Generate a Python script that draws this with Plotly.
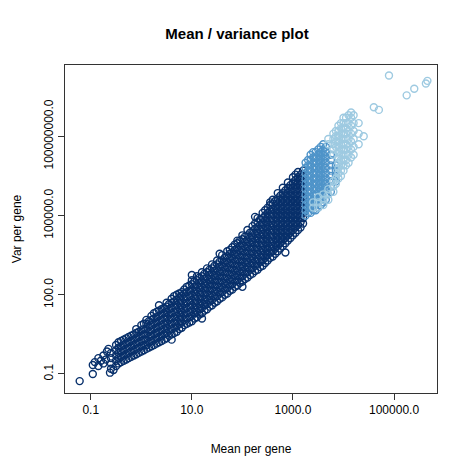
import plotly.graph_objects as go

# log10(mean), log10(var)
low_logmean = [-1.22,-0.96,-0.96,-0.92,-0.85,-0.85,-0.8,-0.75,-0.75,-0.7,-0.68,-0.62,-0.65,-0.55,
               0.35,1.0,1.55,2.25,2.55,1.2,2.0,2.85,0.6]
low_logvar = [-1.27,-1.0,-0.66,-0.55,-0.7,-0.4,-0.5,-0.6,-0.3,-0.45,-0.15,-0.95,-0.05,-0.85,
              1.6,2.75,3.55,4.95,5.5,1.1,2.3,3.6,0.3]

dark_cols = [-0.6,-0.5,-0.4,-0.3,-0.2,-0.1,0.0,0.1,0.2,0.3,0.4,0.5,0.6,0.7,0.8,0.9,1.0,1.1,1.2,1.3,
             1.4,1.5,1.6,1.7,1.8,1.9,2.0,2.1,2.2,2.3,2.4,2.5,2.6,2.7,2.8,2.9,3.0,3.1,3.2]
dark_vars = [
    [-0.8,-0.6,-0.4,-0.2],
    [-0.7,-0.5,-0.3,-0.1,0.1],
    [-0.55,-0.35,-0.15,0.05,0.25],
    [-0.45,-0.25,-0.05,0.15,0.35],
    [-0.35,-0.15,0.05,0.25,0.45],
    [-0.25,-0.05,0.15,0.35,0.55,0.7],
    [-0.15,0.05,0.25,0.45,0.65,0.85],
    [-0.05,0.1,0.3,0.5,0.7,0.9,1.05],
    [0.05,0.25,0.45,0.65,0.85,1.05,1.2],
    [0.15,0.35,0.55,0.75,0.95,1.15,1.35],
    [0.25,0.45,0.65,0.85,1.05,1.25,1.45],
    [0.35,0.55,0.75,0.95,1.15,1.35,1.55,1.7],
    [0.5,0.7,0.9,1.1,1.3,1.5,1.7,1.85],
    [0.6,0.8,1.0,1.2,1.4,1.6,1.8,2.0],
    [0.75,0.95,1.15,1.35,1.55,1.75,1.95,2.1],
    [0.9,1.1,1.3,1.5,1.7,1.9,2.1,2.3],
    [1.0,1.2,1.4,1.6,1.8,2.0,2.2,2.4,2.55],
    [1.15,1.35,1.55,1.75,1.95,2.15,2.35,2.55,2.7],
    [1.3,1.5,1.7,1.9,2.1,2.3,2.5,2.7,2.85],
    [1.45,1.65,1.85,2.05,2.25,2.45,2.65,2.85,3.0],
    [1.6,1.8,2.0,2.2,2.4,2.6,2.8,3.0,3.15],
    [1.75,1.95,2.15,2.35,2.55,2.75,2.95,3.15,3.3],
    [1.9,2.1,2.3,2.5,2.7,2.9,3.1,3.3,3.5],
    [2.05,2.25,2.45,2.65,2.85,3.05,3.25,3.45,3.65],
    [2.2,2.4,2.6,2.8,3.0,3.2,3.4,3.6,3.8],
    [2.35,2.55,2.75,2.95,3.15,3.35,3.55,3.75,3.95,4.05],
    [2.5,2.7,2.9,3.1,3.3,3.5,3.7,3.9,4.1,4.25],
    [2.65,2.85,3.05,3.25,3.45,3.65,3.85,4.05,4.25,4.45],
    [2.8,3.0,3.2,3.4,3.6,3.8,4.0,4.2,4.4,4.6],
    [2.95,3.15,3.35,3.55,3.75,3.95,4.15,4.35,4.55,4.75,4.9],
    [3.1,3.3,3.5,3.7,3.9,4.1,4.3,4.5,4.7,4.9,5.1],
    [3.3,3.5,3.7,3.9,4.1,4.3,4.5,4.7,4.9,5.1,5.3],
    [3.45,3.65,3.85,4.05,4.25,4.45,4.65,4.85,5.05,5.25,5.45,5.6],
    [3.65,3.85,4.05,4.25,4.45,4.65,4.85,5.05,5.25,5.45,5.65,5.85],
    [3.85,4.05,4.25,4.45,4.65,4.85,5.05,5.25,5.45,5.65,5.85,6.05],
    [4.05,4.25,4.45,4.65,4.85,5.05,5.25,5.45,5.65,5.85,6.05,6.25],
    [4.25,4.45,4.65,4.85,5.05,5.25,5.45,5.65,5.85,6.05,6.25,6.45],
    [4.45,4.65,4.85,5.05,5.25,5.45,5.65,5.85,6.05,6.25,6.45,6.65],
    [4.7,4.9,5.1,5.3,5.5,5.7,5.9,6.1,6.3,6.5,6.7],
]

dark_cols2 = [-0.45,-0.35,-0.25,-0.15,-0.05,0.05,0.15,0.25,0.35,0.45,0.55,0.65,0.75,0.85,0.95,1.05,
              1.15,1.25,1.35,1.45,1.55,1.65,1.75,1.85,1.95,2.05,2.15,2.25,2.35,2.45,2.55,2.65,
              2.75,2.85,2.95,3.05,3.15]
dark_vars2 = [
    [-0.6,-0.4,-0.2,0.0,0.2],
    [-0.5,-0.3,-0.1,0.1,0.3],
    [-0.4,-0.2,0.0,0.2,0.4],
    [-0.3,-0.1,0.1,0.3,0.5],
    [-0.2,0.0,0.2,0.4,0.6],
    [-0.1,0.1,0.3,0.5,0.7,0.9],
    [0.0,0.2,0.4,0.6,0.8,1.0],
    [0.1,0.3,0.5,0.7,0.9,1.1,1.3],
    [0.2,0.4,0.6,0.8,1.0,1.2,1.4],
    [0.3,0.5,0.7,0.9,1.1,1.3,1.5],
    [0.45,0.65,0.85,1.05,1.25,1.45,1.65],
    [0.55,0.75,0.95,1.15,1.35,1.55,1.75,1.95],
    [0.7,0.9,1.1,1.3,1.5,1.7,1.9,2.05],
    [0.85,1.05,1.25,1.45,1.65,1.85,2.05,2.2],
    [0.95,1.15,1.35,1.55,1.75,1.95,2.15,2.35],
    [1.1,1.3,1.5,1.7,1.9,2.1,2.3,2.5],
    [1.25,1.45,1.65,1.85,2.05,2.25,2.45,2.65],
    [1.4,1.6,1.8,2.0,2.2,2.4,2.6,2.8],
    [1.55,1.75,1.95,2.15,2.35,2.55,2.75,2.95],
    [1.7,1.9,2.1,2.3,2.5,2.7,2.9,3.1],
    [1.85,2.05,2.25,2.45,2.65,2.85,3.05,3.25],
    [2.0,2.2,2.4,2.6,2.8,3.0,3.2,3.4],
    [2.15,2.35,2.55,2.75,2.95,3.15,3.35,3.55,3.7],
    [2.3,2.5,2.7,2.9,3.1,3.3,3.5,3.7,3.9],
    [2.45,2.65,2.85,3.05,3.25,3.45,3.65,3.85,4.05],
    [2.6,2.8,3.0,3.2,3.4,3.6,3.8,4.0,4.2],
    [2.75,2.95,3.15,3.35,3.55,3.75,3.95,4.15,4.35],
    [2.9,3.1,3.3,3.5,3.7,3.9,4.1,4.3,4.5,4.7],
    [3.05,3.25,3.45,3.65,3.85,4.05,4.25,4.45,4.65,4.85],
    [3.2,3.4,3.6,3.8,4.0,4.2,4.4,4.6,4.8,5.0,5.2],
    [3.4,3.6,3.8,4.0,4.2,4.4,4.6,4.8,5.0,5.2,5.4],
    [3.55,3.75,3.95,4.15,4.35,4.55,4.75,4.95,5.15,5.35,5.55],
    [3.75,3.95,4.15,4.35,4.55,4.75,4.95,5.15,5.35,5.55,5.75],
    [3.95,4.15,4.35,4.55,4.75,4.95,5.15,5.35,5.55,5.75,5.95],
    [4.15,4.35,4.55,4.75,4.95,5.15,5.35,5.55,5.75,5.95,6.15],
    [4.35,4.55,4.75,4.95,5.15,5.35,5.55,5.75,5.95,6.15,6.35,6.55],
    [4.55,4.75,4.95,5.15,5.35,5.55,5.75,5.95,6.15,6.35,6.55],
]

mid_cols = [3.25,3.3,3.35,3.4,3.45,3.5,3.55,3.6,3.65,3.75,3.85]
mid_vars = [
    [5.0,5.2,5.4,5.6,5.8,6.0,6.2,6.4,6.6,6.8,7.0],
    [5.1,5.3,5.5,5.7,5.9,6.1,6.3,6.5,6.7,6.9,7.1],
    [5.1,5.3,5.5,5.7,5.9,6.1,6.3,6.5,6.7,6.9,7.1,7.3],
    [5.2,5.4,5.6,5.8,6.0,6.2,6.4,6.6,6.8,7.0,7.2,7.4],
    [5.2,5.4,5.6,5.8,6.0,6.2,6.4,6.6,6.8,7.0,7.2,7.4],
    [5.3,5.5,5.7,5.9,6.1,6.3,6.5,6.7,6.9,7.1,7.3,7.5],
    [5.4,5.6,5.8,6.0,6.2,6.4,6.6,6.8,7.0,7.2,7.4,7.6],
    [5.5,5.7,5.9,6.1,6.3,6.5,6.7,6.9,7.1,7.3,7.5,7.7],
    [5.6,5.8,6.0,6.2,6.4,6.6,6.8,7.0,7.2,7.4,7.6],
    [5.9,6.1,6.3,6.5,6.7,6.9,7.1,7.3],
    [6.3,6.5,6.7,6.9],
]

light_cols = [3.4,3.5,3.6,3.7,3.8,3.85,3.9,3.95,4.0,4.05,4.1,4.15,4.2,4.3,4.4]
light_vars = [
    [5.3,5.5],
    [5.3,5.5,5.7],
    [5.4,5.6,5.8],
    [5.6,5.8,6.0,7.7,7.9],
    [5.9,6.1,6.3,7.3,7.5,7.7,7.9,8.1],
    [6.2,6.4,7.6,7.8,8.0,8.2],
    [6.4,6.6,6.8,7.0,7.2,7.4,7.6,7.8,8.0,8.2,8.4],
    [6.5,6.7,6.9,7.1,7.3,7.5,7.7,7.9,8.1,8.3,8.5],
    [6.7,6.9,7.1,7.3,7.5,7.7,7.9,8.1,8.3,8.5,8.7],
    [6.9,7.1,7.3,7.5,7.7,7.9,8.1,8.3,8.5,8.7],
    [7.0,7.3,7.6,7.9,8.2,8.5,8.8],
    [7.2,7.5,7.8,8.1,8.4,8.7,8.9],
    [7.3,7.6,7.9,8.2,8.5,8.8],
    [7.7,8.1,8.5],
    [8.0],
]
outlier_logmean = [4.6,4.7,4.9,5.25,5.4,5.63,5.66]
outlier_logvar = [9.1,9.0,10.3,9.55,9.8,10.0,10.1]

x_tickvals = [0.1,10,1000,100000]
x_ticktext = ["0.1","10.0","1000.0","100000.0"]
y_tickvals = [0.1,100,100000,100000000]
y_ticktext = ["0.1","100.0","100000.0","100000000.0"]

def expand(cols, vars_):
    xs, ys = [], []
    for c, vs in zip(cols, vars_):
        for v in vs:
            xs.append(10**c); ys.append(10**v)
    return xs, ys

dx, dy = expand(dark_cols, dark_vars)
dx2, dy2 = expand(dark_cols2, dark_vars2)
dx = [10**v for v in low_logmean] + dx + dx2
dy = [10**v for v in low_logvar] + dy + dy2
mx, my = expand(mid_cols, mid_vars)
lx, ly = expand(light_cols, light_vars)
lx += [10**v for v in outlier_logmean]
ly += [10**v for v in outlier_logvar]

fig = go.Figure()
for xs, ys, col in [(dx, dy, "#08306B"), (mx, my, "#4F94C9"), (lx, ly, "#9ECAE1")]:
    fig.add_trace(go.Scatter(x=xs, y=ys, mode="markers",
                             marker=dict(symbol="circle-open", size=7, color=col, line=dict(width=1.4, color=col)),
                             showlegend=False, hoverinfo="skip"))

font = dict(family="Liberation Sans", size=12, color="#000")
axis_common = dict(type="log", showline=True, mirror=True, linecolor="#333", linewidth=1,
                   ticks="outside", ticklen=6, tickcolor="#333", showgrid=False, zeroline=False,
                   automargin=False, tickfont=font)
fig.update_layout(
    width=474, height=474, margin=dict(l=65, r=37, t=65, b=81),
    paper_bgcolor="white", plot_bgcolor="white",
    title=dict(text="<b>Mean / variance plot</b>", x=0.5, xanchor="center", y=0.928, yanchor="middle",
               font=dict(family="Liberation Sans", size=15, color="#000")),
    xaxis=dict(axis_common, range=[-1.51, 5.85], tickvals=x_tickvals, ticktext=x_ticktext,
               title=dict(text="Mean per gene", standoff=28, font=font)),
    yaxis=dict(axis_common, range=[-1.72, 10.7], tickvals=y_tickvals, ticktext=y_ticktext, tickangle=-90,
               title=dict(text="Var per gene", standoff=18, font=font)),
)
fig.write_html("out.html", config={"displayModeBar": False})
with open("out.html", encoding="utf-8") as f:
    html = f.read()
html = html.replace("<head>", "<head><style>body{margin:0;}</style>", 1)
with open("out.html", "w", encoding="utf-8") as f:
    f.write(html)
